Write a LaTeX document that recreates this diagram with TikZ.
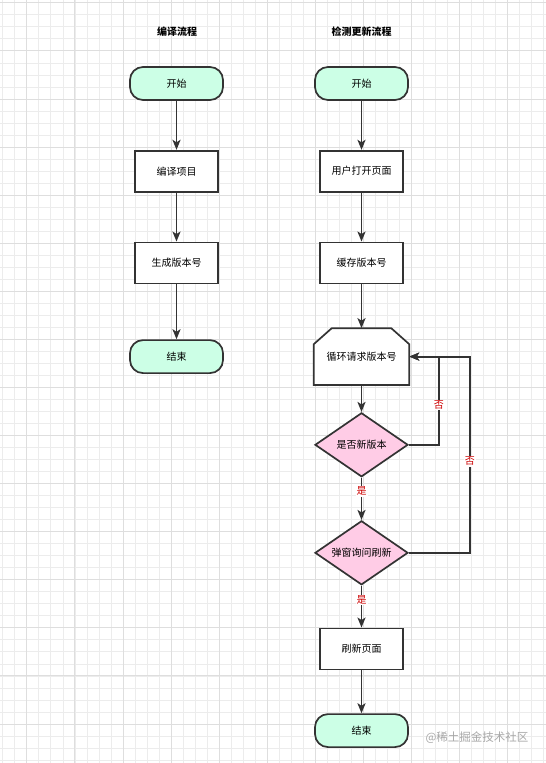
\documentclass[tikz,border=0pt]{standalone}
\usepackage{fontspec}
\setmainfont{Noto Sans CJK SC}
\usetikzlibrary{shapes.geometric, arrows.meta, positioning, backgrounds}
\definecolor{linegray}{HTML}{333333}
\definecolor{termfill}{HTML}{CCFFE6}
\definecolor{decfill}{HTML}{FFCCE6}
\definecolor{labred}{HTML}{CC0000}
\definecolor{gridminor}{HTML}{ECECEC}
\definecolor{gridmajor}{HTML}{DEDEDE}
\definecolor{markgray}{HTML}{A8A8A8}
\pgfdeclarelayer{shapes}
\pgfsetlayers{background,shapes,main}

\begin{document}
\begin{tikzpicture}[
    x=1pt, y=-1pt,
    node distance=49pt,
    font=\fontsize{10}{12}\selectfont,
    terminal/.style={rectangle, draw=linegray, fill=termfill, line width=1.7pt, rounded corners=13pt, minimum width=93pt, minimum height=33pt},
    process/.style={rectangle, draw=linegray, fill=white, line width=1.7pt, minimum width=83pt, minimum height=41pt},
    loopbox/.style={rectangle, minimum width=95pt, minimum height=56.5pt},
    decision/.style={diamond, draw=linegray, fill=decfill, line width=1.7pt, aspect=1.45, inner sep=0pt, minimum width=93pt, minimum height=64pt},
    title/.style={font=\fontsize{10}{12}\selectfont\bfseries},
    lab/.style={fill=white, text=labred, inner sep=1pt},
    arrow/.style={-{Stealth[length=10pt, width=8pt, inset=2.5pt]}, line width=1.9pt, draw=linegray}
]
\useasboundingbox (0,0) rectangle (546,763);

% grid paper
\begin{scope}[on background layer]
\fill[white] (0,0) rectangle (546,763);
\foreach \i in {0,...,45} {
  \pgfmathsetmacro{\gx}{2.7+12.02*\i}
  \draw[gridminor, line width=0.6pt] (\gx,0) -- (\gx,763);
}
\foreach \i in {0,...,63} {
  \pgfmathsetmacro{\gy}{2.7+12.02*\i}
  \draw[gridminor, line width=0.6pt] (0,\gy) -- (546,\gy);
}
\foreach \i in {0,...,10} {
  \pgfmathsetmacro{\gx}{26.7+48.08*\i}
  \draw[gridmajor, line width=0.7pt] (\gx,0) -- (\gx,763);
}
\foreach \i in {0,...,15} {
  \pgfmathsetmacro{\gy}{2.7+48.08*\i}
  \draw[gridmajor, line width=0.7pt] (0,\gy) -- (546,\gy);
}
\end{scope}

\node[title] (title1) at (177,32) {编译流程};
\node[title] (title2) at (361.5,32) {检测更新流程};

% left column
\node[terminal] (start1) at (176.5,83.5) {开始};
\node[process, below=of start1] (compile) {编译项目};
\node[process, below=of compile] (genver) {生成版本号};
\node[terminal, below=55pt of genver] (end1) {结束};

% right column
\node[terminal] (start2) at (361.5,83.5) {开始};
\node[process, below=of start2] (openpage) {用户打开页面};
\node[process, below=of openpage] (cachever) {缓存版本号};
\node[loopbox, below=43.9pt of cachever] (loop) {循环请求版本号};
\node[decision, below=26.9pt of loop] (isnew) {是否新版本};
\node[decision, below=42.3pt of isnew] (ask) {弹窗询问刷新};
\node[process, below=41.9pt of ask] (refresh) {刷新页面};
\node[terminal, below=43pt of refresh] (end2) {结束};

\begin{pgfonlayer}{shapes}
\draw[linegray, fill=white, line width=1.7pt]
  ([xshift=18pt]loop.north west) -- ([xshift=-18pt]loop.north east)
  -- ([yshift=-16pt]loop.north east) -- (loop.south east)
  -- (loop.south west) -- ([yshift=-16pt]loop.north west) -- cycle;
\end{pgfonlayer}

\draw[arrow] (start1) -- (compile);
\draw[arrow] (compile) -- (genver);
\draw[arrow] (genver) -- (end1);

\draw[arrow] (start2) -- (openpage);
\draw[arrow] (openpage) -- (cachever);
\draw[arrow] (cachever) -- (loop);
\draw[arrow] (loop) -- (isnew);
\draw[arrow] (isnew) -- node[lab, pos=0.32] {是} (ask);
\draw[arrow] (ask) -- node[lab, pos=0.34] {是} (refresh);
\draw[arrow] (refresh) -- (end2);
\draw[arrow] (isnew.east) -- ++(30,0) |- node[lab, pos=0.225] {否} (loop.east);
\draw[arrow] (ask.east) -- ++(61,0) |- node[lab, pos=0.233] {否} (loop.east);

\node[text=markgray, font=\fontsize{11.5}{14}\selectfont] (mark) at (477,738) {@稀土掘金技术社区};
\end{tikzpicture}
\end{document}
